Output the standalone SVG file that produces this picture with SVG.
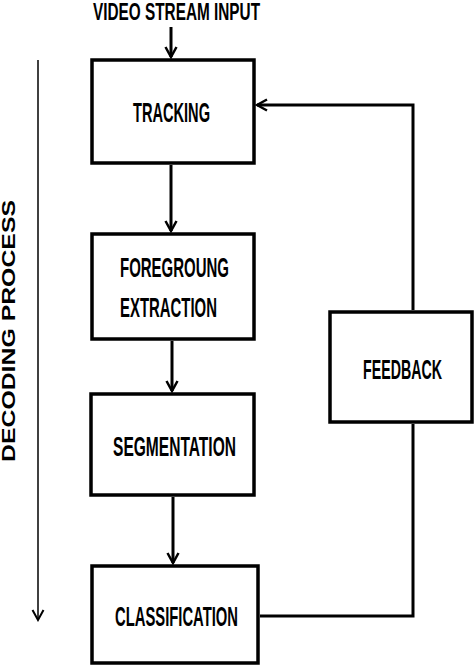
<svg xmlns="http://www.w3.org/2000/svg" width="474" height="666" viewBox="0 0 474 666">
<style>
.box{fill:#fff;stroke:#000;stroke-width:3.5}
.lbl{font-family:"Liberation Sans",Arial,sans-serif;font-weight:bold;font-size:28px;fill:#000;text-anchor:middle}
.con{fill:none;stroke:#000;stroke-width:3}
</style>
<defs>
<marker id="ah" markerUnits="userSpaceOnUse" markerWidth="14" markerHeight="14" viewBox="0 0 14 14" refX="12" refY="7" orient="auto">
<path d="M2,1.5 L12,7 L2,12.5" fill="none" stroke="#000" stroke-width="2.5"/>
</marker>
<marker id="ahthin" markerUnits="userSpaceOnUse" markerWidth="14" markerHeight="14" viewBox="0 0 14 14" refX="12" refY="7" orient="auto">
<path d="M2,1.5 L12,7 L2,12.5" fill="none" stroke="#000" stroke-width="2"/>
</marker>
</defs>
<rect width="474" height="666" fill="#fff"/>
<g id="connectors">
<path class="con" d="M171,27 V57" marker-end="url(#ah)"/>
<path class="con" d="M171,165 V231" marker-end="url(#ah)"/>
<path class="con" d="M172,341 V391" marker-end="url(#ah)"/>
<path class="con" d="M173,497 V563" marker-end="url(#ah)"/>
<path class="con" d="M260,616 H413 V424"/>
<path class="con" d="M413,310 V105 H257" marker-end="url(#ah)"/>
<path fill="none" stroke="#000" stroke-width="1.5" d="M38,60 V620" marker-end="url(#ahthin)"/>
</g>
<g id="input-label">
<text class="lbl" x="176.5" y="20" style="font-size:24px" textLength="167" lengthAdjust="spacingAndGlyphs">VIDEO STREAM INPUT</text>
</g>
<g id="decoding-process">
<text class="lbl" transform="translate(15,331) rotate(-90)" style="font-size:19px" textLength="262" lengthAdjust="spacingAndGlyphs">DECODING PROCESS</text>
</g>
<g id="tracking">
<rect class="box" x="92" y="60" width="162" height="103"/>
<text class="lbl" x="171.5" y="122" textLength="77" lengthAdjust="spacingAndGlyphs">TRACKING</text>
</g>
<g id="foreground-extraction">
<rect class="box" x="92" y="234" width="162" height="105"/>
<text class="lbl" x="174.5" y="277" textLength="109" lengthAdjust="spacingAndGlyphs">FOREGROUNG</text>
<text class="lbl" x="168.5" y="317" textLength="97" lengthAdjust="spacingAndGlyphs">EXTRACTION</text>
</g>
<g id="segmentation">
<rect class="box" x="91" y="394" width="163" height="101"/>
<text class="lbl" x="174.5" y="456" textLength="123" lengthAdjust="spacingAndGlyphs">SEGMENTATION</text>
</g>
<g id="classification">
<rect class="box" x="92" y="566" width="166" height="97"/>
<text class="lbl" x="176.5" y="626" textLength="123" lengthAdjust="spacingAndGlyphs">CLASSIFICATION</text>
</g>
<g id="feedback">
<rect class="box" x="330" y="312" width="142" height="110"/>
<text class="lbl" x="402.5" y="379" textLength="79" lengthAdjust="spacingAndGlyphs">FEEDBACK</text>
</g>
</svg>
